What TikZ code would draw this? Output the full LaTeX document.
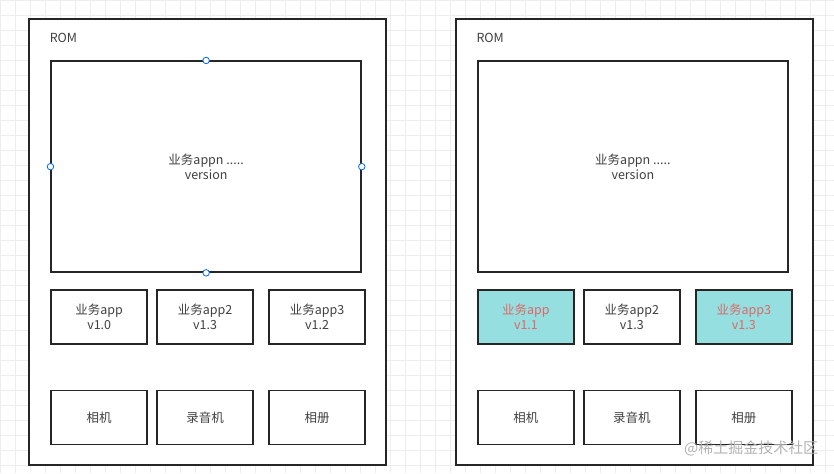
\documentclass[tikz,border=0pt]{standalone}
\usepackage{fontspec}
\setmainfont{Noto Sans CJK SC}
\definecolor{hlfill}{HTML}{95DFE0}
\definecolor{hltext}{HTML}{E06666}
\begin{document}
\begin{tikzpicture}[x=1pt,y=-1pt,
  outer/.style={draw=black!85,line width=1.6pt,fill=white},
  small/.style={draw=black!85,line width=1.5pt,fill=white,minimum width=96pt,minimum height=54pt,font=\fontsize{12.5}{15}\selectfont,text=black!75,align=center,inner sep=0pt},
  hl/.style={fill=hlfill,text=hltext},
  handle/.style={circle,draw=blue!60!cyan,fill=white,line width=0.8pt,inner sep=0pt,minimum size=6.5pt},
  lbl/.style={font=\fontsize{12.5}{14}\selectfont,text=black!75,anchor=west}]
\fill[white] (0,0) rectangle (834,473);
\foreach \i in {0,15,...,834} \draw[black!7,line width=0.5pt] (\i,0) -- (\i,473);
\foreach \j in {0,15,...,473} \draw[black!7,line width=0.5pt] (0,\j) -- (834,\j);
\useasboundingbox (0,0) rectangle (834,473);
% left
\draw[outer] (29,19) rectangle (386,465);
\node[lbl] (romL) at (46,38) {ROM};
\node[small,minimum width=310pt,minimum height=211pt] (bigL) at (206,166.5) {业务appn .....\\version};
\foreach \a in {north,south,east,west} \node[handle] (h\a) at (bigL.\a) {};
\node[small] (a1) at (99,317) {业务app\\v1.0};
\node[small] (a2) at (205,317) {业务app2\\v1.3};
\node[small] (a3) at (317,317) {业务app3\\v1.2};
\node[small] (c1) at (99,417.5) {相机};
\node[small] (c2) at (205,417.5) {录音机};
\node[small] (c3) at (317,417.5) {相册};
% right
\draw[outer] (456,19) rectangle (813,465);
\node[lbl] (romR) at (473,38) {ROM};
\node[small,minimum width=310pt,minimum height=211pt] (bigR) at (633,166.5) {业务appn .....\\version};
\node[small,hl] (b1) at (526,317) {业务app\\v1.1};
\node[small] (b2) at (632,317) {业务app2\\v1.3};
\node[small,hl] (b3) at (744,317) {业务app3\\v1.3};
\node[small] (d1) at (526,417.5) {相机};
\node[small] (d2) at (632,417.5) {录音机};
\node[small] (d3) at (744,417.5) {相册};
\node[font=\fontsize{15}{17}\selectfont,text=black!30,anchor=east] (wm) at (822,448) {@稀土掘金技术社区};
\end{tikzpicture}
\end{document}
